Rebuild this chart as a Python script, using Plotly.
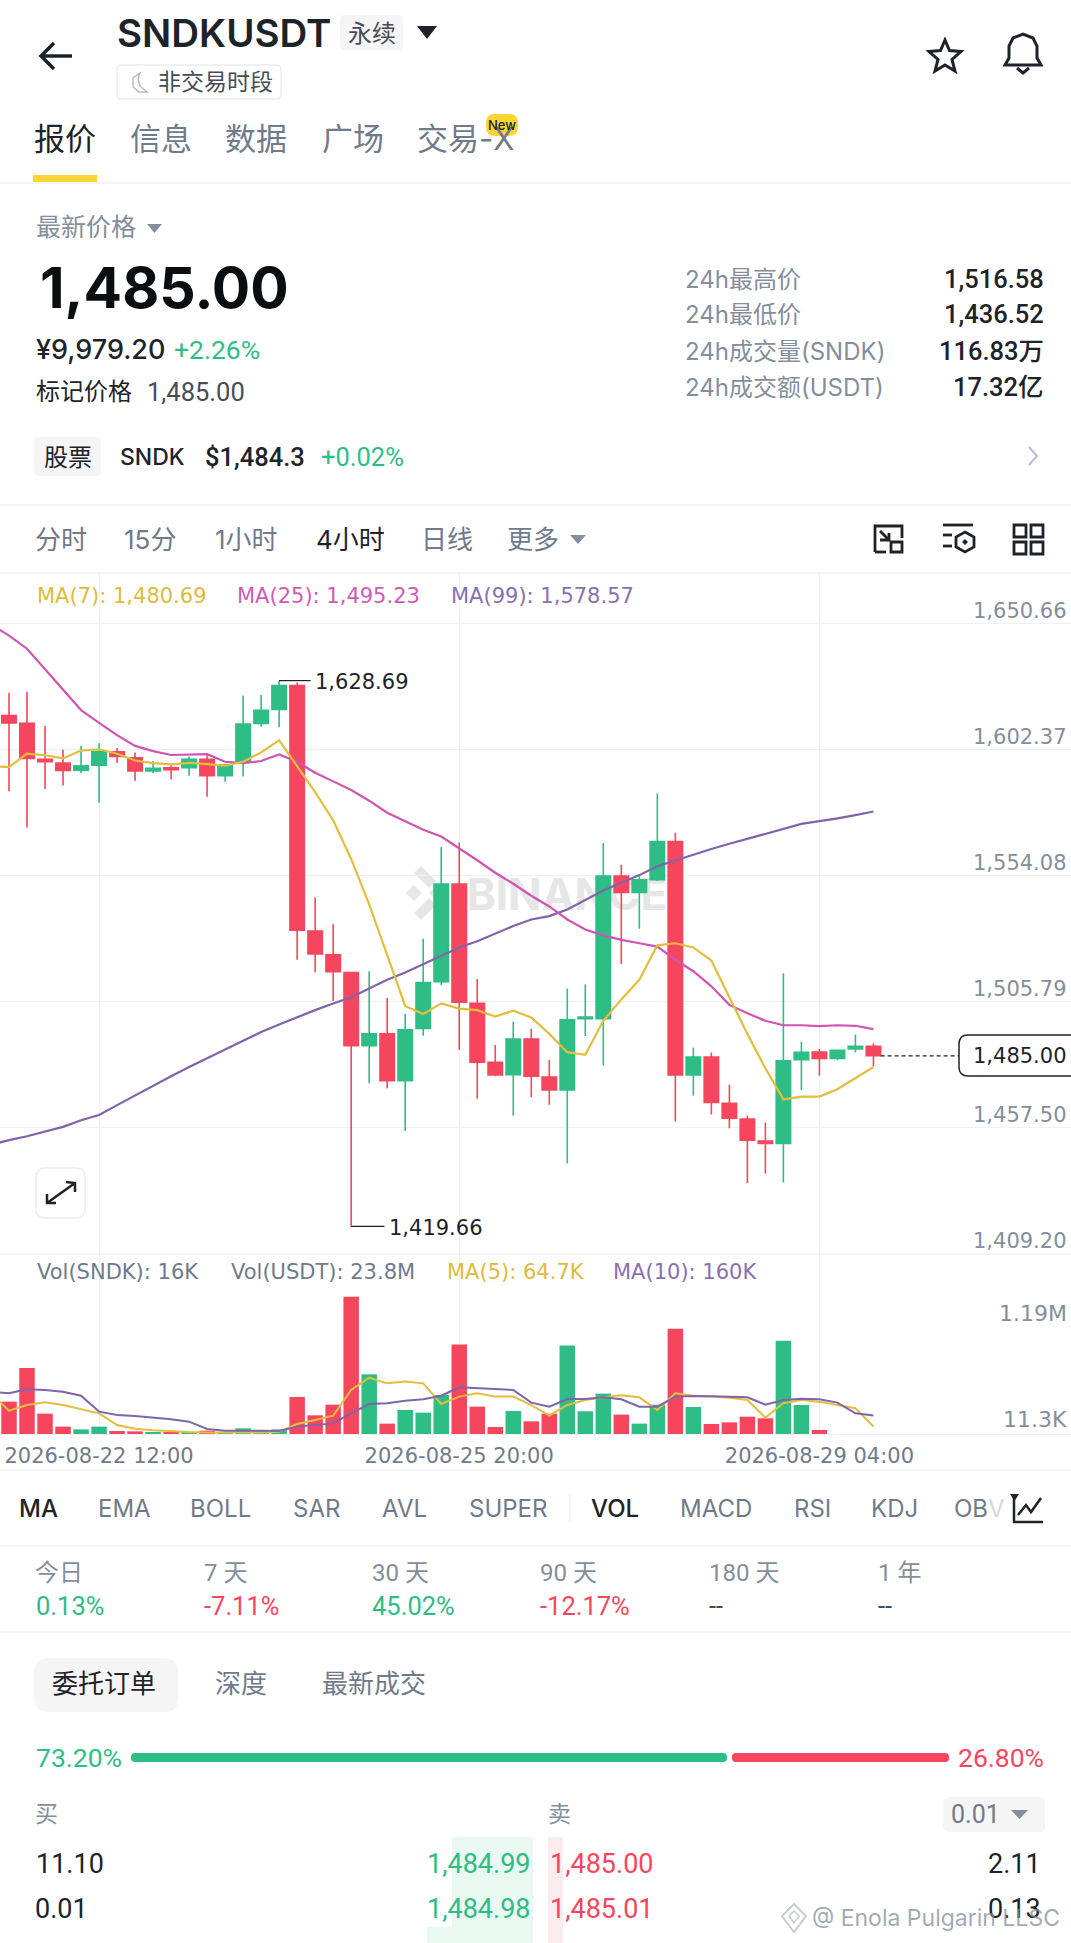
import plotly.graph_objects as go

W, H = 1071, 1943
FONT = 'Inter, "Noto Sans CJK SC", sans-serif'
NUM = 'Roboto, "Noto Sans CJK SC", sans-serif'
WIDE = '"DejaVu Sans", sans-serif'

GREEN = '#2EBD85'
RED = '#F6465D'
DARK = '#1E2329'
GREY = '#848E9C'
LINE = '#EEF0F2'
YELLOW = '#E3BE3E'
PINK = '#CF55B4'
PURPLE = '#8064AB'

# 4h candles
opens = [1615.3, 1612.3, 1598.6, 1597.1, 1594.4, 1596.3, 1601.4, 1599.1, 1594.1, 1595.3,
         1595.3, 1598.6, 1592.3, 1597.6, 1612.3, 1617.6, 1626.8, 1532.8, 1523.7, 1516.9,
         1488.9, 1493.4, 1475.5, 1495.5, 1513.4, 1550.8, 1505.1, 1482.5, 1477.8, 1491.4,
         1476.9, 1471.9, 1499.2, 1499.2, 1553.8, 1547.6, 1552.4, 1567.1, 1477.7, 1484.5,
         1466.8, 1460.8, 1452.4, 1451.4, 1483.5, 1486.4, 1484.0, 1487.6, 1488.6]
highs = [1624.0, 1624.4, 1611.3, 1602.2, 1603.7, 1604.7, 1602.9, 1601.2, 1597.9, 1596.7,
         1599.5, 1600.1, 1596.7, 1623.0, 1623.2, 1628.69, 1628.0, 1545.6, 1535.4, 1516.9,
         1517.4, 1507.1, 1501.0, 1529.8, 1565.0, 1566.7, 1514.4, 1489.1, 1498.0, 1495.5,
         1483.5, 1510.8, 1512.4, 1566.5, 1558.2, 1553.8, 1585.5, 1570.4, 1488.1, 1486.3,
         1473.9, 1462.1, 1459.5, 1516.58, 1490.4, 1487.6, 1487.4, 1493.2, 1489.8]
lows = [1586.3, 1572.4, 1587.2, 1588.5, 1593.3, 1581.9, 1597.1, 1590.3, 1593.3, 1590.8,
        1592.3, 1584.2, 1590.0, 1592.0, 1611.1, 1610.8, 1521.8, 1517.0, 1506.1, 1419.66,
        1474.5, 1472.6, 1456.2, 1492.7, 1512.1, 1487.3, 1468.6, 1477.2, 1462.0, 1469.1,
        1466.3, 1443.8, 1492.6, 1481.3, 1520.2, 1533.7, 1551.9, 1459.8, 1469.7, 1462.5,
        1457.3, 1436.3, 1439.8, 1436.52, 1471.9, 1477.4, 1483.3, 1486.3, 1481.0]
closes = [1612.5, 1598.9, 1597.6, 1594.3, 1596.1, 1601.5, 1599.6, 1594.1, 1595.1, 1594.6,
          1598.6, 1592.3, 1596.4, 1612.1, 1617.3, 1626.8, 1533.1, 1524.0, 1517.2, 1488.9,
          1493.4, 1475.5, 1495.0, 1513.1, 1550.8, 1505.5, 1482.6, 1477.7, 1491.4, 1477.2,
          1471.9, 1498.8, 1499.8, 1553.8, 1547.6, 1552.4, 1567.1, 1477.7, 1484.5, 1467.1,
          1461.1, 1452.7, 1451.4, 1483.1, 1486.3, 1484.0, 1487.1, 1488.6, 1485.0]

# moving averages start one candle before the first visible one
ma7 = [1595.9, 1595.6, 1600.7, 1600.1, 1598.9, 1601.9, 1602.4, 1600.7, 1598.1, 1597.1,
       1596.6, 1597.2, 1596.7, 1596.1, 1597.6, 1601.2, 1605.8, 1595.9, 1586.0, 1575.2,
       1560.4, 1543.0, 1523.2, 1504.1, 1501.0, 1505.1, 1503.1, 1502.5, 1500.0, 1502.3,
       1499.7, 1493.4, 1486.4, 1485.4, 1498.4, 1506.6, 1514.1, 1527.3, 1528.1, 1526.5,
       1521.5, 1507.4, 1493.4, 1480.2, 1468.3, 1469.4, 1469.4, 1472.2, 1476.5, 1480.69]
ma25 = [1650.2, 1645.9, 1640.9, 1633.1, 1625.4, 1617.4, 1612.5, 1607.8, 1603.7, 1601.7,
        1600.2, 1600.4, 1600.5, 1597.6, 1597.1, 1597.9, 1600.4, 1597.6, 1593.4, 1590.1,
        1586.8, 1582.7, 1578.1, 1574.8, 1571.6, 1569.0, 1564.5, 1559.9, 1555.1, 1550.9,
        1546.3, 1542.2, 1537.2, 1533.4, 1531.1, 1529.4, 1528.1, 1526.8, 1521.8, 1517.4,
        1511.6, 1504.5, 1501.3, 1498.4, 1496.7, 1496.7, 1496.4, 1496.7, 1496.5, 1495.23]
ma99 = [1450.9, 1452.7, 1454.2, 1455.9, 1457.8, 1460.3, 1462.3, 1466.1, 1469.9, 1473.7,
        1477.2, 1480.7, 1484.1, 1487.6, 1490.9, 1494.1, 1497.0, 1499.8, 1502.5, 1505.0,
        1507.4, 1510.8, 1514.1, 1516.9, 1520.2, 1523.5, 1526.5, 1528.9, 1531.8, 1534.7,
        1537.2, 1538.5, 1541.0, 1544.7, 1548.3, 1551.3, 1554.2, 1557.6, 1559.9, 1562.0,
        1564.2, 1566.2, 1568.1, 1570.1, 1571.9, 1573.8, 1574.9, 1575.9, 1577.2, 1578.57]

# volume in thousands of SNDK
volumes = [280, 572, 176, 64, 40, 64, 26, 23, 12, 12, 12, 29, 17, 49, 35, 40, 321, 162, 254, 1190,
           517, 90, 208, 185, 338, 775, 237, 61, 199, 110, 176, 766, 197, 350, 168, 90, 254, 913,
           234, 87, 101, 150, 136, 809, 251, 35, 0, 0, 0]
vol_ma5 = [353, 202, 251, 275, 251, 214, 179, 78, 46, 32, 23, 17, 14, 12, 12, 14, 20, 87, 121, 159,
           381, 488, 439, 454, 439, 260, 324, 353, 324, 324, 251, 159, 251, 295, 318, 335, 318, 208,
           353, 332, 324, 315, 295, 142, 266, 295, 280, 251, 223, 64.7]
vol_ma10 = [367, 353, 387, 381, 367, 332, 194, 165, 156, 142, 127, 107, 43, 29, 32, 29, 26, 64, 78, 92,
            179, 260, 266, 289, 301, 332, 405, 396, 387, 381, 272, 237, 303, 303, 318, 301, 237, 237,
            324, 329, 327, 321, 318, 254, 295, 306, 301, 272, 179, 160]

price_ticks = [1650.66, 1602.37, 1554.08, 1505.79, 1457.50, 1409.20]
date_ticks = [5, 25, 45]
date_labels = ['2026-08-22 12:00', '2026-08-25 20:00', '2026-08-29 04:00']

candle_x = list(range(len(closes)))
ma_x = list(range(-1, len(closes)))

shapes = []
notes = []


def fx(x):
    return x / W


def fy(y):
    return 1 - y / H


def text(x, y, s, size=24, color=DARK, anchor='left', weight=400, family=FONT):
    if anchor == 'left':
        x -= 1.5
    notes.append(dict(x=fx(x), y=fy(y), xref='paper', yref='paper', text=s, showarrow=False,
                      xanchor=anchor, yanchor='middle', borderpad=0,
                      font=dict(family=family, size=size, color=color, weight=weight)))


def rect(x0, y0, x1, y1, fill=None, border=None, r=0, layer='above', width=1.5):
    if r:
        p = (f'M {fx(x0 + r)} {fy(y0)} L {fx(x1 - r)} {fy(y0)} Q {fx(x1)} {fy(y0)} {fx(x1)} {fy(y0 + r)} '
             f'L {fx(x1)} {fy(y1 - r)} Q {fx(x1)} {fy(y1)} {fx(x1 - r)} {fy(y1)} '
             f'L {fx(x0 + r)} {fy(y1)} Q {fx(x0)} {fy(y1)} {fx(x0)} {fy(y1 - r)} '
             f'L {fx(x0)} {fy(y0 + r)} Q {fx(x0)} {fy(y0)} {fx(x0 + r)} {fy(y0)} Z')
    else:
        p = f'M {fx(x0)} {fy(y0)} L {fx(x1)} {fy(y0)} L {fx(x1)} {fy(y1)} L {fx(x0)} {fy(y1)} Z'
    shapes.append(dict(type='path', path=p, xref='paper', yref='paper', layer=layer,
                       fillcolor=fill or 'rgba(0,0,0,0)',
                       line=dict(color=border or 'rgba(0,0,0,0)', width=width if border else 0)))


def poly(points, fill=None, color=None, width=2.5, close=True, layer='above'):
    p = 'M ' + ' L '.join(f'{fx(x)} {fy(y)}' for x, y in points) + (' Z' if close else '')
    shapes.append(dict(type='path', path=p, xref='paper', yref='paper', layer=layer,
                       fillcolor=fill or 'rgba(0,0,0,0)',
                       line=dict(color=color or 'rgba(0,0,0,0)', width=width if color else 0)))


def divider(y, x0=0, x1=W):
    poly([(x0, y), (x1, y)], color=LINE, width=1.5, close=False, layer='below')


fig = go.Figure()

# price panel
fig.add_trace(go.Candlestick(
    x=candle_x, open=opens, high=highs, low=lows, close=closes,
    whiskerwidth=0,
    increasing=dict(line=dict(color=GREEN, width=1.6), fillcolor=GREEN),
    decreasing=dict(line=dict(color=RED, width=1.6), fillcolor=RED),
    xaxis='x', yaxis='y'))
for vals, col in [(ma99, PURPLE), (ma25, PINK), (ma7, YELLOW)]:
    fig.add_trace(go.Scatter(x=ma_x, y=vals, mode='lines', line=dict(color=col, width=2.2), xaxis='x', yaxis='y'))

# high / low markers and last price line
fig.add_trace(go.Scatter(x=[15, 16.75], y=[1628.69, 1628.69], mode='lines', line=dict(color='#1E2329', width=1.2)))
fig.add_trace(go.Scatter(x=[19, 20.85], y=[1419.66, 1419.66], mode='lines', line=dict(color='#1E2329', width=1.2)))
fig.add_trace(go.Scatter(x=[48.4, 52.8], y=[closes[-1], closes[-1]], mode='lines',
                         line=dict(color='#1E2329', width=1.3, dash='4px,3px')))

# volume panel
fig.add_trace(go.Bar(x=candle_x, y=volumes, width=0.86,
                     marker=dict(color=[GREEN if c >= o else RED for o, c in zip(opens, closes)], line_width=0),
                     xaxis='x2', yaxis='y2'))
for vals, col in [(vol_ma5, YELLOW), (vol_ma10, PURPLE)]:
    fig.add_trace(go.Scatter(x=ma_x, y=vals, mode='lines', line=dict(color=col, width=2), xaxis='x2', yaxis='y2'))

# chart annotations tied to the axes
for tick in price_ticks:
    notes.append(dict(x=fx(1069), y=tick, xref='paper', yref='y', text=f'{tick:,.2f}', showarrow=False,
                      xanchor='right', yanchor='middle', yshift=12.5,
                      font=dict(family=WIDE, size=21, color=GREY)))
notes.append(dict(x=16.9, y=1628.69, xref='x', yref='y', text='1,628.69', showarrow=False, xanchor='left',
                  yshift=-1, font=dict(family=WIDE, size=21, color=DARK)))
notes.append(dict(x=20.98, y=1419.66, xref='x', yref='y', text='1,419.66', showarrow=False, xanchor='left',
                  yshift=-2, font=dict(family=WIDE, size=21, color=DARK)))
notes.append(dict(x=fx(1069), y=1190, xref='paper', yref='y2', text='1.19M', showarrow=False, xanchor='right',
                  yanchor='middle', yshift=-17, font=dict(family=WIDE, size=22, color=GREY)))
notes.append(dict(x=fx(1069), y=0, xref='paper', yref='y2', text='11.3K', showarrow=False, xanchor='right',
                  yanchor='middle', yshift=15, font=dict(family=WIDE, size=22, color=GREY)))

# watermark
shapes.append(dict(type='rect', xref='paper', yref='paper', x0=fx(452), x1=fx(682), y0=fy(915), y1=fy(871),
                   layer='below', line=dict(width=0), fillcolor='rgba(0,0,0,0)',
                   label=dict(text='<b>BINANCE</b>', font=dict(family=FONT, size=44, color='#E6E6E6'),
                              textposition='middle center')))
poly([(421, 866), (436, 881), (429, 888), (414, 873)], fill='#E6E6E6', layer='below')
poly([(406, 893), (414, 885), (422, 893), (414, 901)], fill='#E6E6E6', layer='below')
poly([(421, 920), (436, 905), (429, 898), (414, 913)], fill='#E6E6E6', layer='below')
poly([(429, 893), (437, 885), (445, 893), (437, 901)], fill='#E6E6E6', layer='below')

# last price tag
rect(959, 1035, 1080, 1076, fill='white', border='#1E2329', r=9)
text(973, 1056, '1,485.00', 21, DARK, family=WIDE)

# expand button
rect(36, 1168, 85, 1218, fill='white', border='#EAECEF', r=9)
poly([(47, 1203), (75, 1183)], color=DARK, width=2.5, close=False)
poly([(47, 1194), (47, 1203), (56, 1203)], color=DARK, width=2.5, close=False)
poly([(66, 1182), (75, 1183), (75, 1192)], color=DARK, width=2.5, close=False)

# legends
text(37, 596, 'MA(7): 1,480.69', 21, '#DDBB3C', family=WIDE)
text(237, 596, 'MA(25): 1,495.23', 21, '#D05BB5', family=WIDE)
text(451, 596, 'MA(99): 1,578.57', 21, '#8A70B0', family=WIDE)
text(37, 1272, 'Vol(SNDK): 16K', 21, '#707A8A', family=WIDE)
text(231, 1272, 'Vol(USDT): 23.8M', 21, '#707A8A', family=WIDE)
text(447, 1272, 'MA(5): 64.7K', 21, '#DDBB3C', family=WIDE)
text(613, 1272, 'MA(10): 160K', 21, '#8A70B0', family=WIDE)

# header
poly([(72, 56), (41, 56)], color=DARK, width=3.5, close=False)
poly([(54, 43), (41, 56), (54, 69)], color=DARK, width=3.5, close=False)
text(117, 33, 'SNDKUSDT', 38.5, DARK, weight=600)
rect(340, 15, 403, 50, fill='#F5F5F5', r=5)
text(371.5, 33, '永续', 24, '#474D57', 'center')
poly([(417, 26), (437, 26), (427, 39)], fill=DARK)
rect(117, 65, 281, 99, fill='white', border='#EAECEF', r=5)
poly([(140, 73), (133, 78), (133, 87), (139, 92), (147, 92), (140, 86), (138, 79)], color='#B7BDC6', width=1.5)
text(158, 82, '非交易时段', 23, '#474D57')
poly([(945, 40), (949.5, 50.5), (961, 51.5), (952, 59.5), (955, 71), (945, 65), (935, 71), (938, 59.5), (929, 51.5), (940.5, 50.5)],
     color=DARK, width=3)
poly([(1005, 65), (1009, 58), (1009, 46), (1013, 38), (1023, 34), (1033, 38), (1037, 46), (1037, 58), (1041, 65)],
     color=DARK, width=3)
poly([(1017, 68), (1023, 73), (1029, 68)], color=DARK, width=3, close=False)

text(34, 138, '报价', 31, DARK)
for x, s in [(130, '信息'), (225, '数据'), (322, '广场'), (417, '交易-X')]:
    text(x, 138, s, 31, '#707A8A')
rect(486, 114, 518, 136, fill='#FCD535', r=9)
text(502, 125, 'New', 13, DARK, 'center', weight=500)
rect(33, 175, 97, 182, fill='#FCD535')
divider(183)

# price block
text(36, 227, '最新价格', 25, GREY)
poly([(147, 224), (162, 224), (154.5, 233)], fill=GREY)
text(40, 287, '1,485.00', 57, '#0B0E11', weight=700)
text(36, 349, '¥9,979.20', 27, DARK, weight=500)
text(174, 349, '+2.26%', 26.5, GREEN, family=NUM)
text(36, 392, '标记价格', 24, DARK)
text(147, 392, '1,485.00', 25.5, '#474D57', family=NUM)

stat_rows = [(279, '24h最高价', '1,516.58'), (314, '24h最低价', '1,436.52'),
             (351, '24h成交量(SNDK)', '116.83万'), (387, '24h成交额(USDT)', '17.32亿')]
for y, name, val in stat_rows:
    text(685, y, name, 24, GREY)
    text(1045, y, val, 25.5, DARK, 'right', weight=500, family=NUM)

rect(34, 437, 101, 476, fill='#F5F5F5', r=5)
text(67.5, 457, '股票', 24, DARK, 'center')
text(120, 457, 'SNDK', 23, DARK, weight=500)
text(205, 457, '$1,484.3', 25.5, DARK, weight=500, family=NUM)
text(321, 457, '+0.02%', 25.5, GREEN, family=NUM)
poly([(1029, 447), (1037, 456), (1029, 465)], color='#B7BDC6', width=2, close=False)
divider(505)

# interval row
for x, s, col, wt in [(35, '分时', '#707A8A', 400), (124, '15分', '#707A8A', 400), (215, '1小时', '#707A8A', 400),
                      (316, '4小时', DARK, 400), (421, '日线', '#707A8A', 400), (507, '更多', '#707A8A', 400)]:
    text(x, 539, s, 26, col, weight=wt)
poly([(570, 535), (586, 535), (578, 544)], fill=GREY)

poly([(875, 552), (875, 526), (902, 526), (902, 538)], color=DARK, width=2.8, close=False)
poly([(875, 552), (886, 552)], color=DARK, width=2.8, close=False)
rect(891, 542, 902, 552, border=DARK, width=2.8)
poly([(880, 531), (889, 540)], color=DARK, width=2.8, close=False)
poly([(880, 540), (889, 540), (889, 533)], color=DARK, width=2.8, close=False)

poly([(943, 525), (973, 525)], color=DARK, width=2.8, close=False)
poly([(943, 535), (952, 535)], color=DARK, width=2.8, close=False)
poly([(943, 546), (952, 546)], color=DARK, width=2.8, close=False)
poly([(965, 532), (974, 537), (974, 547), (965, 552), (956, 547), (956, 537)], color=DARK, width=2.8)
poly([(965, 539), (968, 542), (965, 545), (962, 542)], fill=DARK)

for x0, y0 in [(1014, 525), (1031, 525), (1014, 542), (1031, 542)]:
    rect(x0, y0, x0 + 12, y0 + 12, border=DARK, width=2.8)

divider(573)
divider(1254)
divider(1470)

# indicator row
indicators = [(19, 'MA', DARK, 500), (98, 'EMA', '#707A8A', 400), (190, 'BOLL', '#707A8A', 400),
              (294, 'SAR', '#707A8A', 400), (382, 'AVL', '#707A8A', 400), (469, 'SUPER', '#707A8A', 400),
              (591, 'VOL', DARK, 500), (680, 'MACD', '#707A8A', 400), (794, 'RSI', '#707A8A', 400),
              (871, 'KDJ', '#707A8A', 400), (955, "OB<span style='color:#D5D8DC'>V</span>", '#707A8A', 400)]
for x, s, col, wt in indicators:
    text(x, 1508, s, 24, col, weight=wt)
poly([(570, 1495), (570, 1521)], color=LINE, width=1.5, close=False)
poly([(1014, 1494), (1014, 1522), (1043, 1522)], color=DARK, width=2.5, close=False)
poly([(1018, 1515), (1026, 1505), (1031, 1512), (1041, 1498)], color=DARK, width=2.5, close=False)
poly([(1010, 1494), (1019, 1494), (1014.5, 1501)], fill=DARK)
divider(1546)

# change stats
periods = [(36, '今日', '0.13%', GREEN), (204, '7 天', '-7.11%', RED), (372, '30 天', '45.02%', GREEN),
           (540, '90 天', '-12.17%', RED), (709, '180 天', '--', '#474D57'), (878, '1 年', '--', '#474D57')]
for x, name, val, col in periods:
    text(x, 1573, name, 24, GREY, family=NUM)
    text(x, 1606, val, 25.5, col, family=NUM)
divider(1632)

# order book
rect(34, 1658, 178, 1712, fill='#F5F5F5', r=14)
text(52, 1683, '委托订单', 26, DARK)
text(215, 1683, '深度', 26, '#707A8A')
text(322, 1683, '最新成交', 26, '#707A8A')

text(36, 1757, '73.20%', 26.5, GREEN, family=NUM)
text(1045, 1757, '26.80%', 26.5, RED, 'right', family=NUM)
rect(131, 1753, 727, 1762, fill=GREEN, r=4)
rect(732, 1753, 949, 1762, fill=RED, r=4)

text(36, 1814, '买', 23, GREY)
text(548, 1814, '卖', 23, GREY)
rect(943, 1797, 1045, 1832, fill='#F5F5F5', r=6)
text(951, 1814, '0.01', 25, '#707A8A', family=NUM)
poly([(1011, 1810), (1028, 1810), (1019.5, 1819)], fill=GREY)

rect(452, 1837, 533, 1927, fill='#E9F8F1', layer='below')
rect(427, 1927, 533, H, fill='#E9F8F1', layer='below')
rect(548, 1837, 563, H, fill='#FDECEF', layer='below')
for y, qty, bid, ask, ask_qty in [(1864, '11.10', '1,484.99', '1,485.00', '2.11'),
                                  (1909, '0.01', '1,484.98', '1,485.01', '0.13')]:
    text(36, y, qty, 27, DARK, family=NUM)
    text(531, y, bid, 27, GREEN, 'right', family=NUM)
    text(550, y, ask, 27, RED, family=NUM)
    text(1042, y, ask_qty, 27, DARK, 'right', family=NUM)

# page watermark
poly([(794, 1904), (806, 1916), (794, 1932), (782, 1916)], color='#C8CCD2', width=2)
poly([(794, 1911), (799, 1916), (794, 1923), (789, 1916)], color='#C8CCD2', width=1.5)
text(812, 1918, '@ Enola Pulgarin LLSC', 23, 'rgba(132,142,156,0.75)')

x_range = [-0.5, 58.97]
fig.update_layout(
    width=W, height=H,
    margin=dict(l=0, r=0, t=0, b=0),
    paper_bgcolor='white', plot_bgcolor='white',
    showlegend=False, hovermode=False, barmode='overlay',
    boxgap=0.2, boxgroupgap=0,
    font=dict(family=FONT),
    xaxis=dict(domain=[0, 1], range=x_range, anchor='y', tickvals=date_ticks, showticklabels=False,
               showgrid=True, gridcolor=LINE, gridwidth=1.2, zeroline=False, rangeslider=dict(visible=False),
               ticks='', showline=False),
    yaxis=dict(domain=[fy(1254), fy(573)], range=[1409.1, 1669.9], tickvals=price_ticks, showticklabels=False,
               showgrid=True, gridcolor=LINE, gridwidth=1.2, zeroline=False, ticks='', showline=False),
    xaxis2=dict(domain=[0, 1], range=x_range, anchor='y2', tickvals=date_ticks, ticktext=date_labels,
                showgrid=True, gridcolor=LINE, gridwidth=1.2, zeroline=False, ticks='outside', ticklen=3,
                tickcolor='rgba(0,0,0,0)', tickfont=dict(family=WIDE, size=21, color='#707A8A'),
                showline=True, linecolor=LINE),
    yaxis2=dict(domain=[fy(1434), fy(1254)], range=[0, 1560], showticklabels=False, showgrid=False,
                zeroline=False, ticks=''),
    shapes=shapes,
    annotations=notes,
)

fig.write_html("out.html", config=dict(displayModeBar=False),
               post_script="document.body.style.margin='0';document.body.style.overflow='hidden';")
